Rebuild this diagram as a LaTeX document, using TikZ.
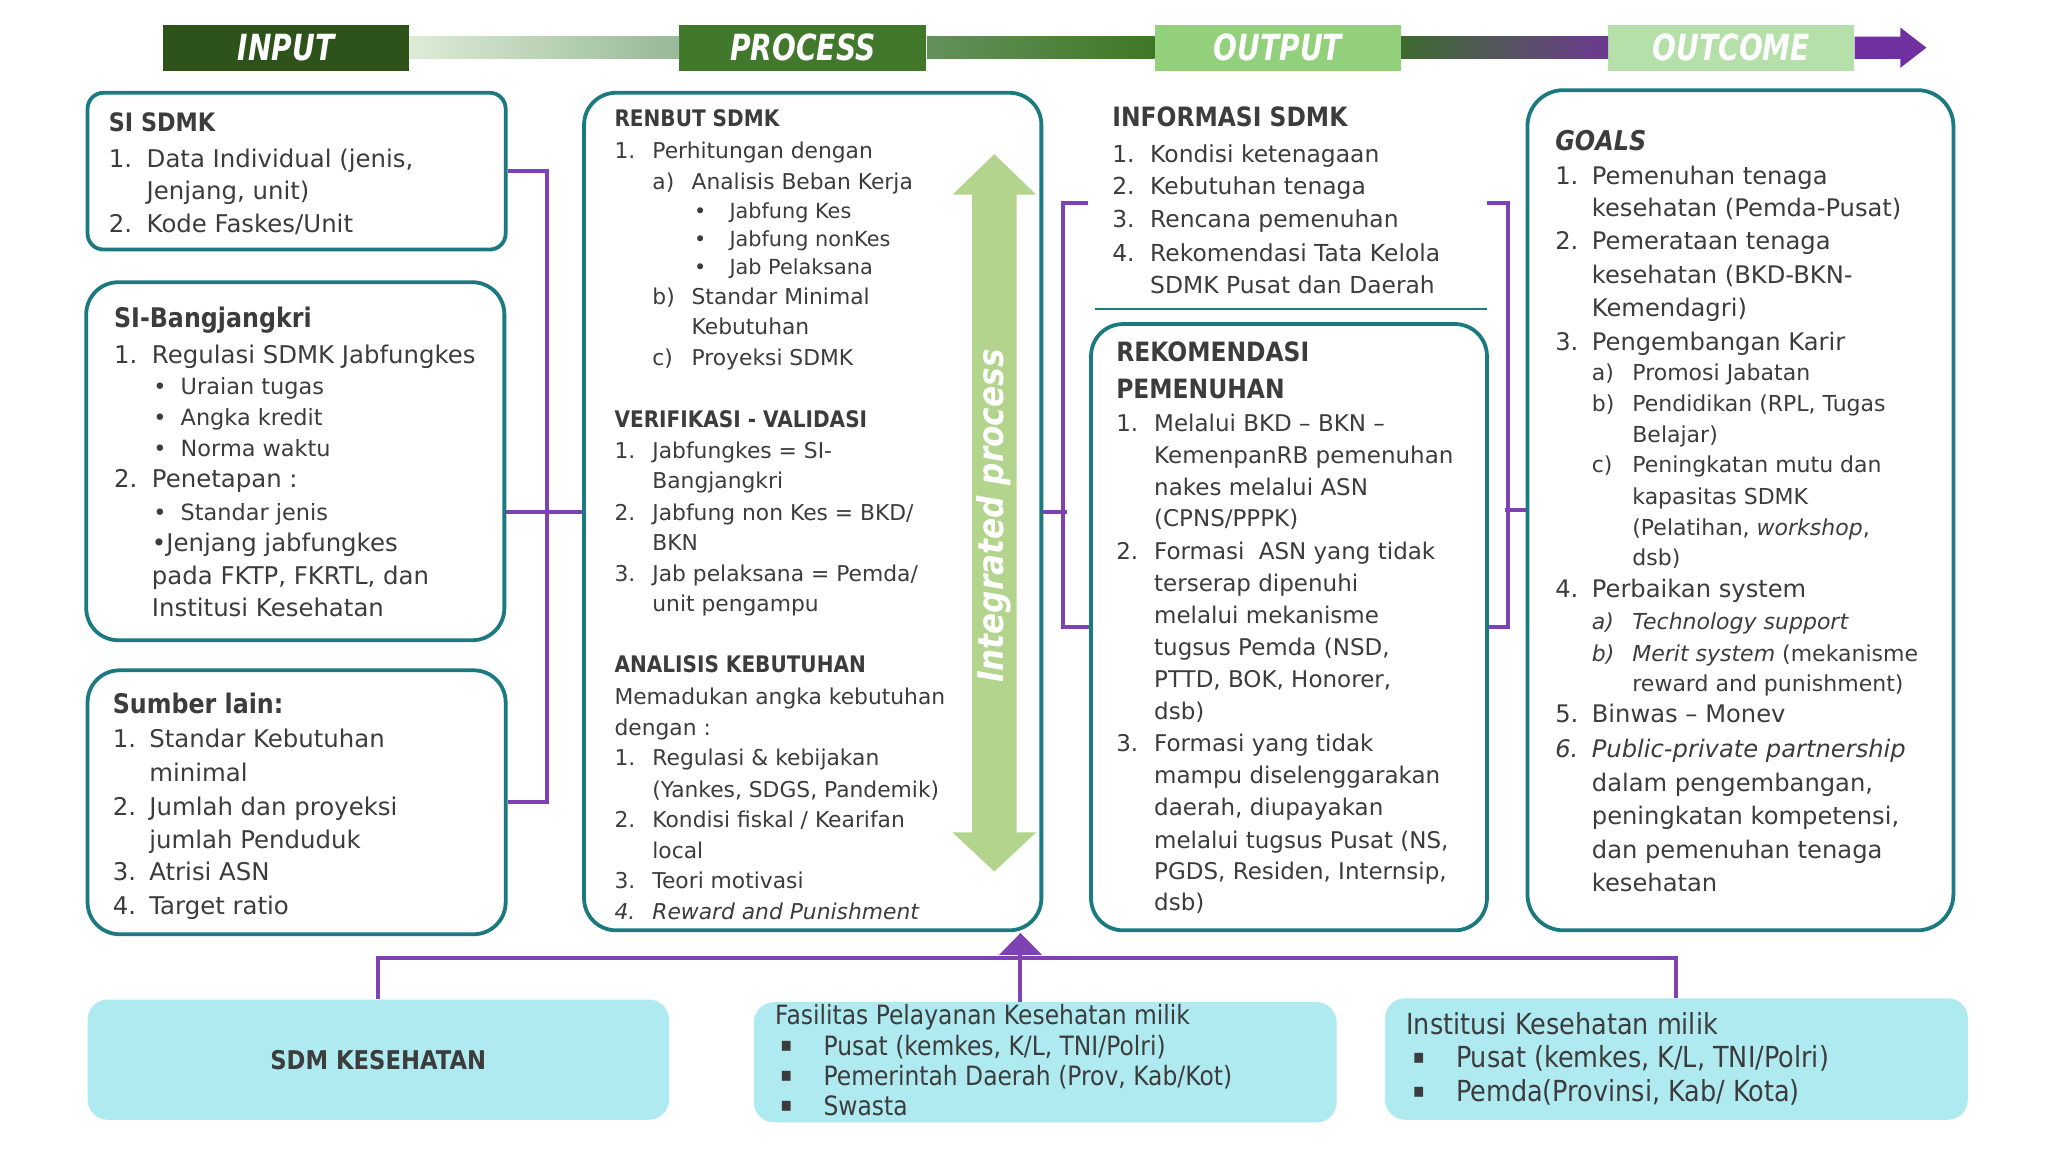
\documentclass[tikz,border=0pt]{standalone}
\usepackage{fontspec}
\setmainfont{DejaVu Sans}
\newfontfamily\cnd[FakeStretch=0.88]{DejaVu Sans}
\newfontfamily\bnr[FakeStretch=0.78]{DejaVu Sans}
\usetikzlibrary{fit,calc,arrows.meta}
\definecolor{teal1}{RGB}{27,122,128}
\definecolor{purp}{RGB}{126,66,180}
\definecolor{txt}{RGB}{60,60,60}
\definecolor{cyanbox}{RGB}{174,234,240}
\definecolor{arrg}{RGB}{178,212,140}
\definecolor{gA}{RGB}{45,82,26}
\definecolor{gB}{RGB}{65,120,43}
\definecolor{gC}{RGB}{146,208,124}
\definecolor{gD}{RGB}{182,224,170}
\definecolor{vio}{RGB}{112,48,160}
\definecolor{barAa}{RGB}{222,236,214}
\definecolor{barAb}{RGB}{152,184,152}
\definecolor{barBa}{RGB}{100,145,90}
\definecolor{barBb}{RGB}{62,120,38}
\definecolor{barCa}{RGB}{62,105,48}
\definecolor{barCm}{RGB}{85,85,95}
\definecolor{barCb}{RGB}{108,58,145}
\newcounter{ln}
\newcommand\tline[4]{\stepcounter{ln}\node[tx,#1] (t\theln) at (#2,#3) {#4};}
\newcommand\iline[6]{\tline{#1}{#2}{#4}{#5}\tline{#1}{#3}{#4}{#6}}
\newcommand\sqb{\raisebox{0.28ex}{\fontsize{10}{10}\selectfont ▪}}
\tikzset{
 tx/.style={anchor=base west, inner sep=0pt, text=txt},
 box/.style={draw=teal1, line width=1.9pt, rounded corners=#1, inner sep=0pt},
 box/.default=16pt,
 cbox/.style={fill=cyanbox, rounded corners=10pt, inner sep=0pt},
 bbox/.style={inner sep=0pt},
 btext/.style={inner sep=0pt, anchor=center, text=white, font=\bnr\bfseries\itshape\fontsize{18}{20}\selectfont},
 pline/.style={draw=purp, line width=2pt},
 fL/.style={font=\fontsize{12.2}{14}\selectfont},
 fLs/.style={font=\fontsize{11.2}{13}\selectfont},
 hL/.style={font=\cnd\bfseries\fontsize{12.7}{14}\selectfont},
 hLL/.style={font=\cnd\bfseries\fontsize{13.5}{15}\selectfont},
 fP/.style={font=\fontsize{10.9}{13}\selectfont},
 fPs/.style={font=\fontsize{10.4}{12}\selectfont},
 hP/.style={font=\cnd\bfseries\fontsize{11.4}{13}\selectfont},
 fO/.style={font=\fontsize{11.7}{14}\selectfont},
 hO/.style={font=\cnd\bfseries\fontsize{13.3}{15}\selectfont},
 fR/.style={font=\fontsize{11.5}{14}\selectfont},
 fC/.style={font=\fontsize{12.1}{14}\selectfont},
 fCs/.style={font=\fontsize{11}{13}\selectfont},
 hC/.style={font=\cnd\bfseries\itshape\fontsize{13.6}{15}\selectfont},
 fB/.style={font=\cnd\fontsize{13.3}{15}\selectfont},
 fBB/.style={font=\cnd\fontsize{14.5}{16}\selectfont},
}
\begin{document}
\begin{tikzpicture}[x=0.6533pt,y=-0.6533pt]
\useasboundingbox (0,0) rectangle (1567.4,881.68);
\fill[white] (0,0) rectangle (1567.4,881.68);

% ---------- banner ----------
\node[bbox, fill=gA, fit={(125,19) (313,54)}] (bin) {};
\node[bbox, fill=gB, fit={(520,19) (709,54)}] (bpr) {};
\node[bbox, fill=gC, fit={(884,19) (1072,54)}] (bou) {};
\node[bbox, fill=gD, fit={(1231,19) (1419,54)}] (boc) {};
\node[btext] (lin) at (bin.center) {INPUT};
\node[btext] (lpr) at (bpr.center) {PROCESS};
\node[btext] (lou) at (bou.center) {OUTPUT};
\node[btext] (loc) at (boc.center) {OUTCOME};
\shade[left color=barAa, right color=barAb] ($(bin.east)+(0,-8.5)$) rectangle ($(bpr.west)+(0,8.5)$);
\shade[left color=barBa, right color=barBb] ($(bpr.east)+(0,-8.5)$) rectangle ($(bou.west)+(0,8.5)$);
\shade[left color=barCa, right color=barCb, middle color=barCm] ($(bou.east)+(0,-8.5)$) rectangle ($(boc.west)+(0,8.5)$);
\fill[vio] ($(boc.east)+(0,-8.5)$) -- ++(35,0) -- ++(0,-7) -- ++(20,15.5) -- ++(-20,15.5) -- ++(0,-7) -- ++(-35,0) -- cycle;

% ---------- boxes ----------
\node[box=8pt, fit={(67,71) (387,191)}] (sisdmk) {};
\node[box, fit={(66,216) (386,490)}] (bang) {};
\node[box, fit={(67,513) (387,715)}] (sumber) {};
\node[box, fit={(447,71) (797,712)}] (prc) {};
\node[inner sep=0pt, fit={(838,75) (1138,236)}] (info) {};
\draw[teal1, line width=1pt] (info.south west) -- (info.south east);
\node[box, fit={(835,248) (1138,712)}] (rekom) {};
\node[box=18pt, fit={(1169,69) (1495,712)}] (outc) {};

% ---------- integrated process arrow ----------
\fill[arrg] (761,118) -- (793,149) -- (778,149) -- (778,637) -- (793,637) -- (761,667)
  -- (729,637) -- (744,637) -- (744,149) -- (729,149) -- cycle;
\node[rotate=90, inner sep=0pt, text=white, font=\cnd\bfseries\itshape\fontsize{17.7}{19}\selectfont] (ip) at (761,395) {Integrated process};

% ---------- connectors ----------
\draw[pline] (sisdmk.east) -- ++(30,0) |- (sumber.east);
\draw[pline] (prc.west) -- (prc.west -| bang.east);
\draw[pline] (prc.east) -- ++(18,0);
\draw[pline] ($(info.west)+(-5,0)$) -| ($(rekom.west)+(-20,0)$) -- (rekom.west);
\draw[pline] (info.east) -| ($(rekom.east)+(15,0)$) -- (rekom.east);
\draw[pline] (outc.west) -- ++(-16,0);

% ---------- bottom ----------
\node[cbox, fit={(67,765) (512,857)}] (sdm) {};
\node[inner sep=0pt, text=txt, font=\cnd\bfseries\fontsize{12.9}{14}\selectfont] (sdmt) at (sdm.center) {SDM KESEHATAN};
\node[cbox, fit={(577,767) (1023,859)}] (fas) {};
\node[cbox, fit={(1060,764) (1506,857)}] (inst) {};
\coordinate (hub) at (781,733);
\draw[pline] (sdm.north) |- (hub) -| (inst.north);
\draw[pline, -{Triangle[width=21pt,length=11pt]}] (fas.north -| hub) -- (781,714);

\tline{fB}{593}{784}{Fasilitas Pelayanan Kesehatan milik}
\iline{fB}{597}{630}{808}{\sqb}{Pusat (kemkes, K/L, TNI/Polri)}
\iline{fB}{597}{630}{831}{\sqb}{Pemerintah Daerah (Prov, Kab/Kot)}
\iline{fB}{597}{630}{854}{\sqb}{Swasta}
\tline{fBB}{1076}{792}{Institusi Kesehatan milik}
\iline{fBB}{1081}{1114}{817}{\sqb}{Pusat (kemkes, K/L, TNI/Polri)}
\iline{fBB}{1081}{1114}{843}{\sqb}{Pemda(Provinsi, Kab/ Kota)}

% ---------- left column text ----------
\tline{hL}{83}{101}{SI SDMK}
\iline{fL}{83}{112}{128}{1.}{Data Individual (jenis,}
\tline{fL}{112}{153}{Jenjang, unit)}
\iline{fL}{83}{112}{178}{2.}{Kode Faskes/Unit}

\tline{hLL}{87}{251}{SI-Bangjangkri}
\iline{fL}{87}{116}{278}{1.}{Regulasi SDMK Jabfungkes}
\iline{fLs}{117}{138}{302}{•}{Uraian tugas}
\iline{fLs}{117}{138}{326}{•}{Angka kredit}
\iline{fLs}{117}{138}{349}{•}{Norma waktu}
\iline{fL}{87}{116}{373}{2.}{Penetapan :}
\iline{fLs}{117}{138}{398}{•}{Standar jenis}
\tline{fL}{116}{422}{•Jenjang jabfungkes}
\tline{fL}{116}{447}{pada FKTP, FKRTL, dan}
\tline{fL}{116}{472}{Institusi Kesehatan}

\tline{hLL}{86}{546}{Sumber lain:}
\iline{fL}{86}{114}{572}{1.}{Standar Kebutuhan}
\tline{fL}{114}{598}{minimal}
\iline{fL}{86}{114}{624}{2.}{Jumlah dan proyeksi}
\tline{fL}{114}{649}{jumlah Penduduk}
\iline{fL}{86}{114}{674}{3.}{Atrisi ASN}
\iline{fL}{86}{114}{700}{4.}{Target ratio}

% ---------- process text ----------
\tline{hP}{470}{97}{RENBUT SDMK}
\iline{fP}{470}{499}{121}{1.}{Perhitungan dengan}
\iline{fP}{499}{529}{145}{a)}{Analisis Beban Kerja}
\iline{fPs}{531}{558}{167}{•}{Jabfung Kes}
\iline{fPs}{531}{558}{189}{•}{Jabfung nonKes}
\iline{fPs}{531}{558}{210}{•}{Jab Pelaksana}
\iline{fP}{499}{529}{233}{b)}{Standar Minimal}
\tline{fP}{529}{256}{Kebutuhan}
\iline{fP}{499}{529}{280}{c)}{Proyeksi SDMK}
\tline{hP}{470}{327}{VERIFIKASI - VALIDASI}
\iline{fP}{470}{499}{351}{1.}{Jabfungkes = SI-}
\tline{fP}{499}{374}{Bangjangkri}
\iline{fP}{470}{499}{398}{2.}{Jabfung non Kes = BKD/}
\tline{fP}{499}{421}{BKN}
\iline{fP}{470}{499}{445}{3.}{Jab pelaksana = Pemda/}
\tline{fP}{499}{468}{unit pengampu}
\tline{hP}{470}{515}{ANALISIS KEBUTUHAN}
\tline{fP}{470}{539}{Memadukan angka kebutuhan}
\tline{fP}{470}{563}{dengan :}
\iline{fP}{470}{499}{586}{1.}{Regulasi \& kebijakan}
\tline{fP}{499}{610}{(Yankes, SDGS, Pandemik)}
\iline{fP}{470}{499}{633}{2.}{Kondisi fiskal / Kearifan}
\tline{fP}{499}{657}{local}
\iline{fP}{470}{499}{680}{3.}{Teori motivasi}
\iline{fP}{470}{499}{704}{\itshape 4.}{\itshape Reward and Punishment}

% ---------- output text ----------
\tline{hO}{851}{97}{INFORMASI SDMK}
\iline{fO}{851}{880}{124}{1.}{Kondisi ketenagaan}
\iline{fO}{851}{880}{149}{2.}{Kebutuhan tenaga}
\iline{fO}{851}{880}{174}{3.}{Rencana pemenuhan}
\iline{fO}{851}{880}{200}{4.}{Rekomendasi Tata Kelola}
\tline{fO}{880}{225}{SDMK Pusat dan Daerah}

\tline{hO}{854}{277}{REKOMENDASI}
\tline{hO}{854}{305}{PEMENUHAN}
\iline{fR}{854}{883}{330}{1.}{Melalui BKD – BKN –}
\tline{fR}{883}{355}{KemenpanRB pemenuhan}
\tline{fR}{883}{379}{nakes melalui ASN}
\tline{fR}{883}{403}{(CPNS/PPPK)}
\iline{fR}{854}{883}{428}{2.}{Formasi\hspace{0.3em} ASN yang tidak}
\tline{fR}{883}{453}{terserap dipenuhi}
\tline{fR}{883}{477}{melalui mekanisme}
\tline{fR}{883}{502}{tugsus Pemda (NSD,}
\tline{fR}{883}{526}{PTTD, BOK, Honorer,}
\tline{fR}{883}{551}{dsb)}
\iline{fR}{854}{883}{575}{3.}{Formasi yang tidak}
\tline{fR}{883}{600}{mampu diselenggarakan}
\tline{fR}{883}{624}{daerah, diupayakan}
\tline{fR}{883}{649}{melalui tugsus Pusat (NS,}
\tline{fR}{883}{673}{PGDS, Residen, Internsip,}
\tline{fR}{883}{697}{dsb)}

% ---------- outcome text ----------
\tline{hC}{1190}{115}{GOALS}
\iline{fC}{1190}{1218}{141}{1.}{Pemenuhan tenaga}
\tline{fC}{1218}{166}{kesehatan (Pemda-Pusat)}
\iline{fC}{1190}{1218}{191}{2.}{Pemerataan tenaga}
\tline{fC}{1218}{217}{kesehatan (BKD-BKN-}
\tline{fC}{1218}{242}{Kemendagri)}
\iline{fC}{1190}{1218}{268}{3.}{Pengembangan Karir}
\iline{fCs}{1218}{1249}{291}{a)}{Promosi Jabatan}
\iline{fCs}{1218}{1249}{315}{b)}{Pendidikan (RPL, Tugas}
\tline{fCs}{1249}{339}{Belajar)}
\iline{fCs}{1218}{1249}{362}{c)}{Peningkatan mutu dan}
\tline{fCs}{1249}{386}{kapasitas SDMK}
\tline{fCs}{1249}{410}{(Pelatihan, \textit{workshop},}
\tline{fCs}{1249}{433}{dsb)}
\iline{fC}{1190}{1218}{457}{4.}{Perbaikan system}
\iline{fCs}{1218}{1249}{482}{\itshape a)}{\itshape Technology support}
\iline{fCs}{1218}{1249}{506}{\itshape b)}{\textit{Merit system} (mekanisme}
\tline{fCs}{1249}{529}{reward and punishment)}
\iline{fC}{1190}{1218}{553}{5.}{Binwas – Monev}
\iline{fC}{1190}{1218}{580}{\itshape 6.}{\itshape Public-private partnership}
\tline{fC}{1218}{606}{dalam pengembangan,}
\tline{fC}{1218}{631}{peningkatan kompetensi,}
\tline{fC}{1218}{657}{dan pemenuhan tenaga}
\tline{fC}{1218}{682}{kesehatan}
\end{tikzpicture}
\end{document}
